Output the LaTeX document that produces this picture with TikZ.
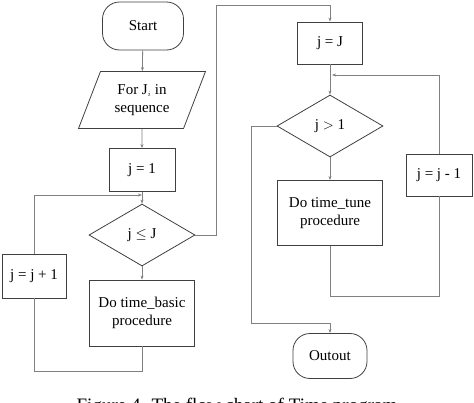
\documentclass[tikz,border=0pt]{standalone}
\usepackage{fontspec}
\setmainfont{Liberation Serif}
\usetikzlibrary{shapes.geometric,arrows.meta}
\begin{document}
\begin{tikzpicture}[x=1pt,y=-1pt,
  box/.style={draw=black!75,line width=0.8pt,inner sep=0pt,align=center,font=\fontsize{15}{18}\selectfont},
  term/.style={box,rounded corners=17pt},
  dia/.style={box,diamond},
  para/.style={box,trapezium,trapezium left angle=65,trapezium right angle=115,trapezium stretches=true},
  ln/.style={draw=black!50,line width=0.8pt},
  ar/.style={ln,-{Stealth[length=4pt,width=3pt]}}]
\useasboundingbox (0,0) rectangle (474,402);
\node[term,minimum width=81pt,minimum height=48pt] (start) at (143,26) {Start};
\node[para,minimum width=127pt,minimum height=57pt] (seq) at (142,100) {For J$_{\scriptscriptstyle i}$ in\\sequence};
\node[box,minimum width=66pt,minimum height=43pt] (one) at (142,170) {j = 1};
\node[dia,minimum width=106pt,minimum height=62pt] (le) at (142,235) {j $\leq$ J};
\node[box,minimum width=105pt,minimum height=66pt] (basic) at (142,313) {Do time\_basic\\procedure};
\node[box,minimum width=64pt,minimum height=44pt] (inc) at (34,276) {j = j + 1};
\node[box,minimum width=65pt,minimum height=42pt] (jJ) at (330,43) {j = J};
\node[dia,minimum width=106pt,minimum height=62pt] (gt) at (330,126) {j $>$ 1};
\node[box,minimum width=105pt,minimum height=65pt] (tune) at (330,213) {Do time\_tune\\procedure};
\node[box,minimum width=66pt,minimum height=42pt] (dec) at (439,175) {j = j - 1};
\node[term,minimum width=74pt,minimum height=45pt] (out) at (330,356) {Outout};
\coordinate (c1) at (142,195);
\coordinate (c2) at (332,75);
\coordinate (r1) at (216,5);
\coordinate (l1) at (251,323);
\draw[ar] (start) -- (seq);
\draw[ar] (seq) -- (one);
\draw[ar] (one) -- (le);
\draw[ar] (le) -- (basic);
\draw[ln] (basic.south) -- ++(0,25) -| (inc);
\draw[ar] (inc) |- (c1);
\draw[ar] (le.east) -| (r1) -| (jJ.north);
\draw[ar] (jJ) -- (gt);
\draw[ar] (gt) -- (tune);
\draw[ln] (tune.south) -- ++(0,50) -| (dec);
\draw[ar] (dec) |- (c2);
\draw[ar] (gt.west) -| (l1) -| (out.north);
\node[anchor=base,font=\fontsize{19}{22}\selectfont] (cap) at (237,411) {Figure 4. The flow chart of Time program};
\end{tikzpicture}
\end{document}
